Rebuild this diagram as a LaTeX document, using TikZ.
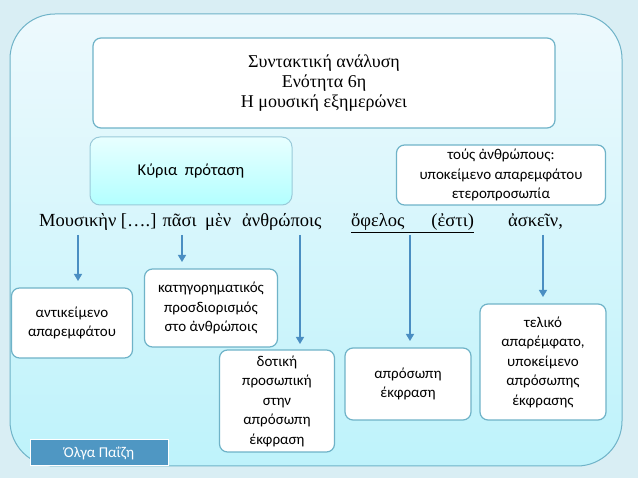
\documentclass[tikz,border=0pt]{standalone}
\usepackage{fontspec}
\setmainfont{Liberation Serif}
\newfontfamily\boxfont{Carlito}
\usetikzlibrary{arrows.meta}
\definecolor{bg}{HTML}{D9EEF4}
\definecolor{panel}{HTML}{D3F1FA}
\definecolor{edge}{HTML}{6FB3C8}
\definecolor{arr}{HTML}{4A8EC2}
\definecolor{tab}{HTML}{4F97C3}
\tikzset{
 wbox/.style={draw=edge,line width=1.2pt,fill=white,rounded corners=8pt,align=center,font=\boxfont\fontsize{15}{19.5}\selectfont},
 arrow/.style={draw=arr,line width=1.3pt,-{Triangle[length=7pt,width=8pt]}},
 sent/.style={font=\fontsize{18.5}{22}\selectfont,anchor=base west,inner sep=0pt}
}
\begin{document}
\begin{tikzpicture}[x=1pt,y=-1pt]
\useasboundingbox (0,0) rectangle (638,478);
\fill[bg] (0,0) rectangle (638,478);
\shade[top color=white!60!panel,bottom color=panel!90!cyan,draw=edge,line width=1pt,rounded corners=45pt] (10,14) rectangle (622,466);
\node[wbox,minimum width=462pt,minimum height=90pt,font=\fontsize{18}{20}\selectfont] (title) at (324,83) {Συντακτική ανάλυση\\Ενότητα 6η\\Η μουσική εξημερώνει};
\shade[top color=white!70!cyan!30,bottom color=cyan!30,draw=edge!70,line width=1pt,rounded corners=10pt] (90,137) rectangle (292,205);
\node[font=\boxfont\fontsize{16.5}{19}\selectfont] (kyria) at (191,171) {Κύρια\ \ πρόταση};
\node[wbox,minimum width=209pt,minimum height=60pt] (tous) at (501,175) {τούς ἀνθρώπους:\\υποκείμενο απαρεμφάτου\\ετεροπροσωπία};
\node[sent] (s1) at (39,227) {Μουσικὴν [….] πᾶσι};
\node[sent] (s2) at (205,227) {μὲν};
\node[sent] (s3) at (242,227) {ἀνθρώποις};
\node[sent] (s4) at (351,227) {\underline{ὄφελος\hspace{27pt}(ἐστι)}};
\node[sent] (s5) at (508,227) {ἀσκεῖν,};
\node[wbox,minimum width=121pt,minimum height=70pt] (b1) at (72,323) {αντικείμενο\\απαρεμφάτου};
\node[wbox,minimum width=133pt,minimum height=78pt] (b2) at (211,308) {κατηγορηματικός\\προσδιορισμός\\στο ἀνθρώποις};
\node[wbox,minimum width=115pt,minimum height=102pt] (b3) at (277,401) {δοτική\\προσωπική\\στην\\απρόσωπη\\έκφραση};
\node[wbox,minimum width=126pt,minimum height=72pt] (b4) at (408,384) {απρόσωπη\\έκφραση};
\node[wbox,minimum width=126pt,minimum height=116pt] (b5) at (543,362) {τελικό\\απαρέμφατο,\\υποκείμενο\\απρόσωπης\\έκφρασης};
\coordinate (a1) at (78,235); \coordinate (a2) at (182,235); \coordinate (a3) at (300,235); \coordinate (a4) at (410,235); \coordinate (a5) at (543,235);
\draw[arrow] (a1) -- (78,281);
\draw[arrow] (a2) -- (182,262);
\draw[arrow] (a3) -- (300,344);
\draw[arrow] (a4) -- (410,341);
\draw[arrow] (a5) -- (543,297);
\node[fill=tab,draw=white,line width=1pt,minimum width=138pt,minimum height=26pt,text=white,font=\boxfont\fontsize{15}{17}\selectfont] (author) at (99,453) {Όλγα Παΐζη};
\end{tikzpicture}
\end{document}
